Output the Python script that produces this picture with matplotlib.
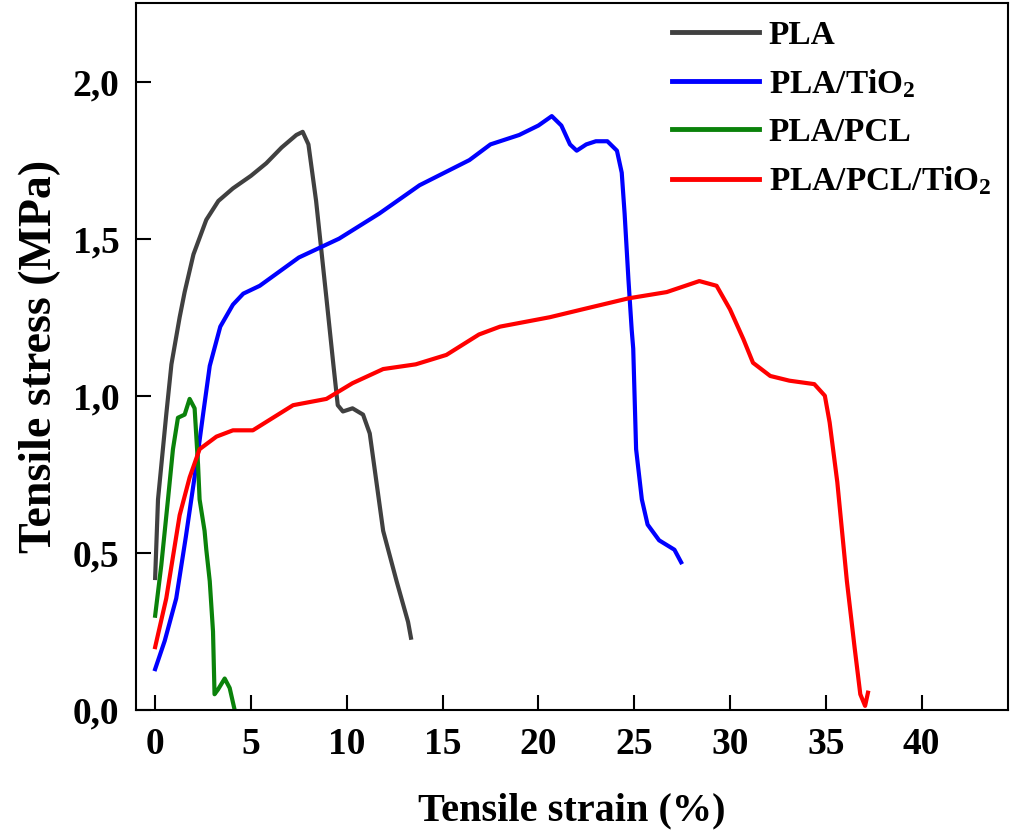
import matplotlib
matplotlib.use("Agg")
import matplotlib.pyplot as plt
from matplotlib.ticker import FuncFormatter

plt.rcParams['font.family'] = ['Liberation Serif', 'DejaVu Serif']
plt.rcParams['font.weight'] = 'bold'
plt.rcParams['mathtext.fontset'] = 'custom'
plt.rcParams['mathtext.rm'] = 'Liberation Serif:bold'
plt.rcParams['mathtext.it'] = 'Liberation Serif:bold'
plt.rcParams['mathtext.bf'] = 'Liberation Serif:bold'

# data (strain %, stress MPa)
pla_x = [0.0, 0.15, 0.58, 0.85, 1.28, 1.54, 2.0, 2.67, 3.3, 4.06, 5.0, 5.8, 6.6, 7.37, 7.7,
         8.0, 8.4, 8.94, 9.3, 9.53, 9.8, 10.3, 10.85, 11.2, 11.9, 12.6, 13.2, 13.35]
pla_y = [0.42, 0.67, 0.94, 1.10, 1.25, 1.33, 1.45, 1.56, 1.62, 1.66, 1.70, 1.74, 1.79, 1.83, 1.84,
         1.80, 1.62, 1.31, 1.10, 0.97, 0.95, 0.96, 0.94, 0.88, 0.57, 0.41, 0.28, 0.23]

tio2_x = [0.0, 0.5, 1.1, 1.6, 2.15, 2.5, 2.85, 3.4, 4.06, 4.6, 5.46, 7.5, 9.6, 11.7, 13.8, 16.4, 17.5,
          19.0, 20.0, 20.7, 21.2, 21.65, 22.0, 22.5, 23.0, 23.6, 24.1, 24.35, 24.5, 24.7,
          24.87, 24.95, 25.1, 25.4, 25.7, 26.3, 27.1, 27.45]
tio2_y = [0.13, 0.22, 0.355, 0.55, 0.78, 0.94, 1.095, 1.22, 1.29, 1.325, 1.35, 1.44, 1.50, 1.58, 1.67, 1.75, 1.80,
          1.83, 1.86, 1.89, 1.86, 1.80, 1.78, 1.80, 1.81, 1.81, 1.78, 1.71, 1.58, 1.37,
          1.21, 1.15, 0.83, 0.67, 0.59, 0.54, 0.51, 0.47]

pcl_x = [0.0, 0.32, 0.67, 0.93, 1.19, 1.54, 1.8, 2.06, 2.24, 2.32, 2.58, 2.67, 2.85, 3.02, 3.1,
         3.28, 3.63, 3.89, 4.15]
pcl_y = [0.30, 0.46, 0.67, 0.83, 0.93, 0.94, 0.99, 0.96, 0.78, 0.67, 0.57, 0.51, 0.41, 0.25, 0.05,
         0.065, 0.10, 0.07, 0.0]

pcl_tio2_x = [0.0, 0.58, 1.28, 1.8, 2.32, 3.2, 4.06, 5.1, 6.15, 7.2, 8.94, 10.3, 11.9, 13.6, 15.2,
              16.9, 18.0, 20.6, 22.3, 24.7, 26.7, 28.4, 29.3, 30.0, 30.7, 31.2, 32.1, 33.1, 34.4,
              34.95, 35.2, 35.6, 36.1, 36.5, 36.8, 37.05, 37.2]
pcl_tio2_y = [0.20, 0.355, 0.62, 0.74, 0.83, 0.87, 0.89, 0.89, 0.93, 0.97, 0.99, 1.04, 1.085, 1.10, 1.13,
              1.195, 1.22, 1.25, 1.275, 1.31, 1.33, 1.365, 1.35, 1.275, 1.18, 1.105, 1.063, 1.048, 1.037,
              1.0, 0.915, 0.725, 0.41, 0.2, 0.05, 0.013, 0.055]

labels = ['PLA', 'PLA/TiO$_2$', 'PLA/PCL', 'PLA/PCL/TiO$_2$']
colors = ['#404040', '#0000ff', '#0a820a', '#ff0000']
xticks = [0, 5, 10, 15, 20, 25, 30, 35, 40]
yticks = [0.0, 0.5, 1.0, 1.5, 2.0]

fig = plt.figure(figsize=(10.17, 8.33), dpi=100)
ax = fig.add_axes([0.1337, 0.1477, 0.8573, 0.8487])

series = [(pla_x, pla_y), (tio2_x, tio2_y), (pcl_x, pcl_y), (pcl_tio2_x, pcl_tio2_y)]
for (xs, ys), lab, c in zip(series, labels, colors):
    ax.plot(xs, ys, color=c, lw=3.0, label=lab, solid_joinstyle='round')

ax.set_xlim(-1.0, 44.5)
ax.set_ylim(0, 2.25)
ax.set_xticks(xticks)
ax.set_yticks(yticks)
ax.yaxis.set_major_formatter(FuncFormatter(lambda v, p: f"{v:.1f}".replace('.', ',')))
ax.tick_params(direction='in', length=11, width=1.5, labelsize=27, pad=12,
               top=False, right=False)
for sp in ax.spines.values():
    sp.set_linewidth(1.5)

ax.set_xlabel('Tensile strain (%)', fontsize=29, fontweight='bold', labelpad=22)
ax.set_ylabel('Tensile stress (MPa)', fontsize=33, fontweight='bold', labelpad=8)

leg = ax.legend(loc='upper right', frameon=False, fontsize=24, handlelength=2.6,
                handletextpad=0.3, labelspacing=0.5, borderaxespad=0.1,
                bbox_to_anchor=(1.0, 1.0))
for ln in leg.get_lines():
    ln.set_linewidth(3.5)

fig.savefig('out.png', dpi=100)
